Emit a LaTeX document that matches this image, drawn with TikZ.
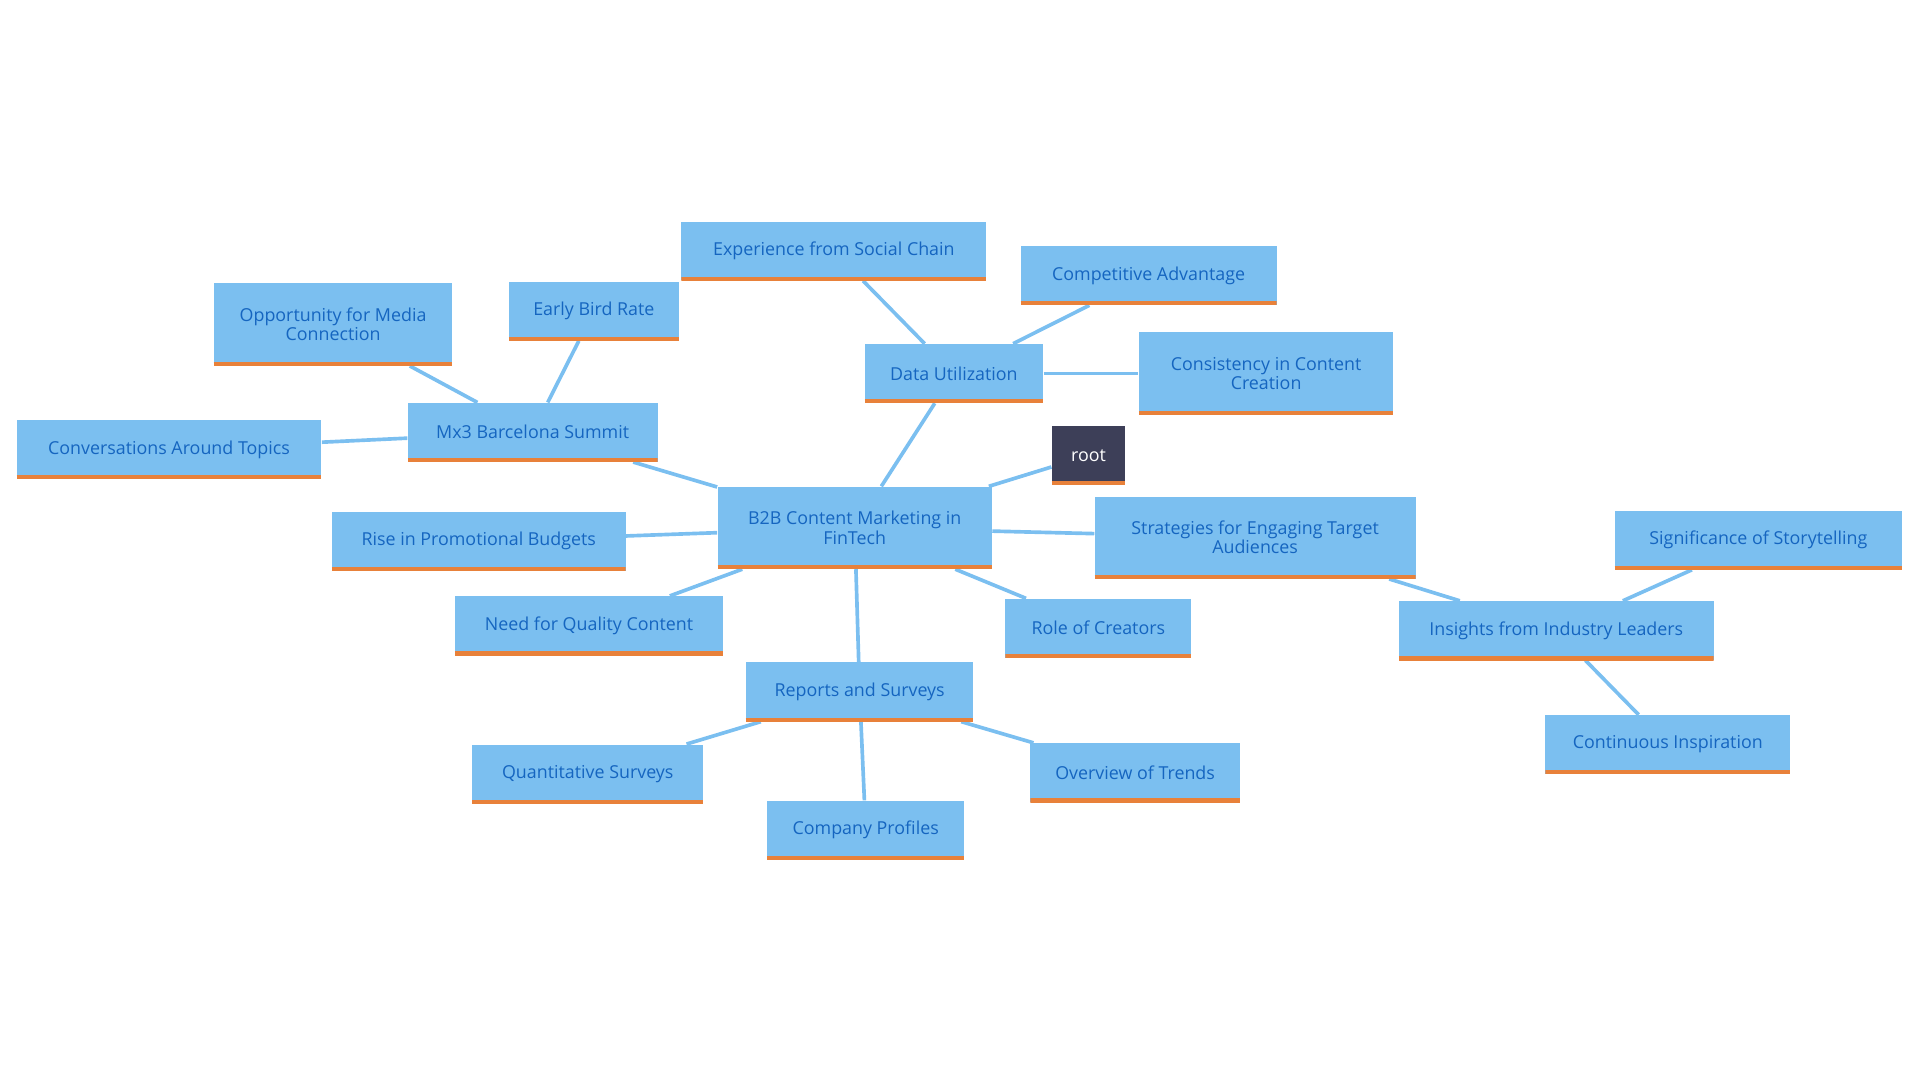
\documentclass[tikz,border=0pt]{standalone}
\usepackage{fontspec}
\setmainfont{Open Sans}
\usetikzlibrary{backgrounds}

\definecolor{boxfill}{HTML}{7BBFF0}
\definecolor{boxtext}{HTML}{1565C0}
\definecolor{boxline}{HTML}{E8813A}
\definecolor{rootfill}{HTML}{3D3F58}

\tikzset{
  box/.style={fill=boxfill, text=boxtext, font=\fontsize{8.3}{9}\selectfont,
    align=center, inner sep=2pt, minimum height=48*0.02cm,
    path picture={\draw[boxline, line width=3.4pt]
      (path picture bounding box.south west) -- (path picture bounding box.south east);}},
  tall/.style={minimum height=67*0.02cm},
  rootbox/.style={box, fill=rootfill, text=white},
  link/.style={boxfill, line width=1.7pt}
}

\begin{document}
\begin{tikzpicture}[x=0.02cm, y=-0.02cm]
  \useasboundingbox (0,0) rectangle (1568,880);

  % centre
  \node[rootbox, minimum width=60*0.02cm] (root) at (889,372) {root};
  \node[box, tall, minimum width=224*0.02cm] (b2b) at (698,431) {B2B Content Marketing in\\FinTech};

  % data branch
  \node[box, minimum width=146*0.02cm] (data) at (779,305) {Data Utilization};
  \node[box, minimum width=249*0.02cm] (social) at (681,205) {Experience from Social Chain};
  \node[box, minimum width=209*0.02cm] (compet) at (938,225) {Competitive Advantage};
  \node[box, tall, minimum width=208*0.02cm] (consist) at (1034,305) {Consistency in Content\\Creation};

  % summit branch
  \node[box, minimum width=204*0.02cm] (summit) at (435,353) {Mx3 Barcelona Summit};
  \node[box, minimum width=139*0.02cm] (early) at (485,254) {Early Bird Rate};
  \node[box, tall, minimum width=195*0.02cm] (media) at (272,265) {Opportunity for Media\\Connection};
  \node[box, minimum width=249*0.02cm] (convers) at (138,367) {Conversations Around Topics};

  % leaves of the centre
  \node[box, minimum width=240*0.02cm] (budget) at (391,442) {Rise in Promotional Budgets};
  \node[box, minimum width=219*0.02cm] (quality) at (481,511) {Need for Quality Content};
  \node[box, minimum width=152*0.02cm] (creators) at (897,513) {Role of Creators};

  % reports branch
  \node[box, minimum width=186*0.02cm] (reports) at (702,565) {Reports and Surveys};
  \node[box, minimum width=189*0.02cm] (quant) at (480,632) {Quantitative Surveys};
  \node[box, minimum width=161*0.02cm] (profiles) at (707,678) {Company Profiles};
  \node[box, minimum width=171*0.02cm] (trends) at (927,631) {Overview of Trends};

  % strategies branch
  \node[box, tall, minimum width=262*0.02cm] (strat) at (1025,439) {Strategies for Engaging Target\\Audiences};
  \node[box, minimum width=257*0.02cm] (insights) at (1271,515) {Insights from Industry Leaders};
  \node[box, minimum width=235*0.02cm] (story) at (1436,441) {Significance of Storytelling};
  \node[box, minimum width=200*0.02cm] (inspire) at (1362,608) {Continuous Inspiration};

  % links
  \begin{scope}[on background layer]
    \foreach \a/\b in {root/b2b, b2b/data, data/social, data/compet, data/consist,
        b2b/summit, summit/early, summit/media, summit/convers,
        b2b/budget, b2b/quality, b2b/creators, b2b/reports,
        reports/quant, reports/profiles, reports/trends,
        b2b/strat, strat/insights, insights/story, insights/inspire}
      \draw[link] (\a) -- (\b);
  \end{scope}
\end{tikzpicture}
\end{document}
